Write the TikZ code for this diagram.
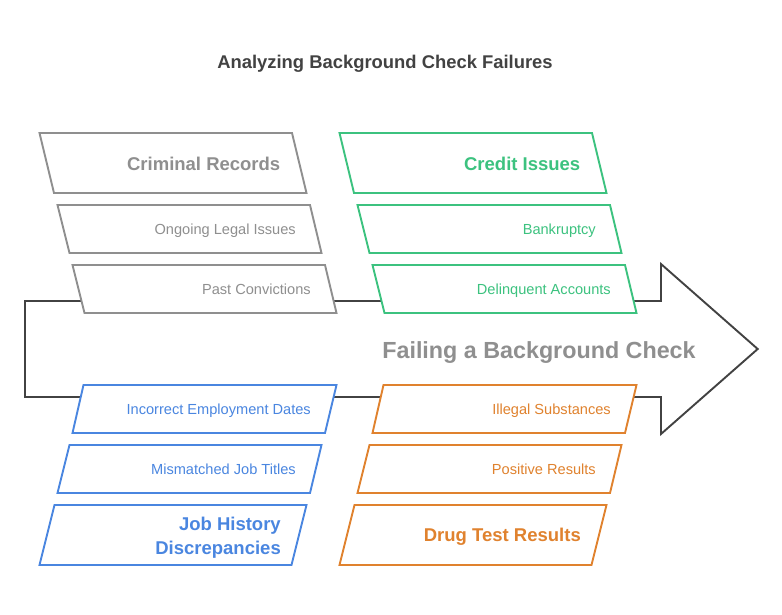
\documentclass[tikz,border=0pt]{standalone}
\usepackage{fontspec}
\setmainfont{Liberation Sans}
\definecolor{cgray}{HTML}{8F8F8F}
\definecolor{cgreen}{HTML}{3CC27F}
\definecolor{cblue}{HTML}{4A86E0}
\definecolor{corange}{HTML}{E0822E}
\definecolor{cdark}{HTML}{424242}
\begin{document}
\begin{tikzpicture}[x=1pt,y=-1pt,
  boxline/.style={line width=1.9pt, fill=white, line join=miter},
  arrowline/.style={draw=cdark, line width=1.9pt, fill=white, line join=miter},
  headtxt/.style={anchor=base east, inner sep=0pt, font=\fontsize{18.5}{22}\selectfont\bfseries},
  subtxt/.style={anchor=base east, inner sep=0pt, font=\fontsize{14.6}{17}\selectfont},
  maintxt/.style={anchor=base, inner sep=0pt, font=\fontsize{23.3}{28}\selectfont\bfseries, text=cgray},
  titletxt/.style={anchor=base, inner sep=0pt, font=\fontsize{18.4}{22}\selectfont\bfseries, text=cdark}
]
\useasboundingbox[fill=white] (0,0) rectangle (782,614);

\node[titletxt] (title) at (385,68) {Analyzing Background Check Failures};

% main arrow
\draw[arrowline] (25,301) -- (661,301) -- (661,264) -- (757.7,349) -- (661,434) -- (661,397) -- (25,397) -- cycle;
\node[maintxt] (main) at (539,358.3) {Failing a Background Check};

% gray group (Criminal Records)
\draw[boxline, draw=cgray] (39.5,133) -- (292,133) -- (306.5,193) -- (54,193) -- cycle;
\draw[boxline, draw=cgray] (57.5,205) -- (310,205) -- (321.5,253) -- (69.5,253) -- cycle;
\draw[boxline, draw=cgray] (72.5,265) -- (325,265) -- (336.5,313) -- (84.5,313) -- cycle;
\node[headtxt, text=cgray] (crim) at (280.5,170) {Criminal Records};
\node[subtxt, text=cgray] (legal) at (296,234.3) {Ongoing Legal Issues};
\node[subtxt, text=cgray] (past) at (311,294.3) {Past Convictions};

% green group (Credit Issues)
\draw[boxline, draw=cgreen] (339.5,133) -- (592,133) -- (606.5,193) -- (354,193) -- cycle;
\draw[boxline, draw=cgreen] (357.5,205) -- (610,205) -- (621.5,253) -- (369.5,253) -- cycle;
\draw[boxline, draw=cgreen] (372.5,265) -- (625,265) -- (636.5,313) -- (384.5,313) -- cycle;
\node[headtxt, text=cgreen] (credit) at (580.5,170) {Credit Issues};
\node[subtxt, text=cgreen] (bank) at (596,234.3) {Bankruptcy};
\node[subtxt, text=cgreen] (delinq) at (611,294.3) {Delinquent Accounts};

% blue group (Job History)
\draw[boxline, draw=cblue] (83.5,385) -- (336.5,385) -- (325,433) -- (72.5,433) -- cycle;
\draw[boxline, draw=cblue] (69.5,445) -- (321.5,445) -- (310,493) -- (57.5,493) -- cycle;
\draw[boxline, draw=cblue] (54.5,505) -- (306.5,505) -- (291.5,565) -- (39.5,565) -- cycle;
\node[subtxt, text=cblue] (dates) at (311,414.3) {Incorrect Employment Dates};
\node[subtxt, text=cblue] (titles) at (296,474.3) {Mismatched Job Titles};
\node[headtxt, text=cblue] (jobA) at (281,530.7) {Job History};
\node[headtxt, text=cblue] (jobB) at (281,554) {Discrepancies};

% orange group (Drug Test Results)
\draw[boxline, draw=corange] (383.5,385) -- (636.5,385) -- (625,433) -- (372.5,433) -- cycle;
\draw[boxline, draw=corange] (369.5,445) -- (621.5,445) -- (610,493) -- (357.5,493) -- cycle;
\draw[boxline, draw=corange] (354.5,505) -- (606.5,505) -- (591.5,565) -- (339.5,565) -- cycle;
\node[subtxt, text=corange] (illegal) at (611,414.3) {Illegal Substances};
\node[subtxt, text=corange] (positive) at (596,474.3) {Positive Results};
\node[headtxt, text=corange] (drug) at (581,541.7) {Drug Test Results};
\end{tikzpicture}
\end{document}
